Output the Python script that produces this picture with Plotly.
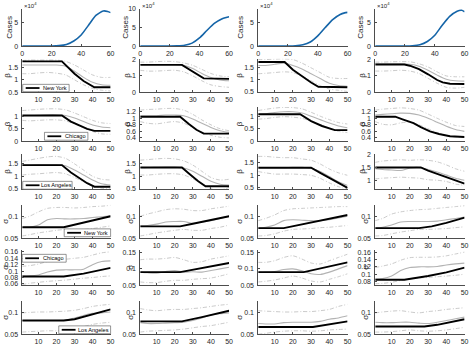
import plotly.graph_objects as go

# ---------------------------------------------------------------- data
# Daily reported cases (x 10^4) for the four scenarios
CASE_DAYS = [0, 10, 20, 25, 30, 35, 40, 45, 50, 55, 58, 60]
cases = [
    [0, 0, 0.02, 0.1, 0.35, 1.1, 2.4, 4.5, 6.6, 7.55, 7.45, 7.2],
    [0, 0, 0.02, 0.08, 0.25, 0.8, 2.2, 4.2, 6.1, 7.3, 7.7, 7.9],
    [0, 0, 0.02, 0.08, 0.3, 0.9, 2.2, 4.0, 5.7, 6.8, 7.15, 7.25],
    [0, 0, 0.02, 0.08, 0.3, 1.0, 2.35, 4.5, 6.4, 7.5, 7.7, 7.4],
]

# Common day grid for posterior mean and credible bounds
DAYS = [1, 5, 10, 15, 20, 25, 30, 35, 40, 45, 50]

# ---- beta, New York
beta_ny_est_days = [
    [1, 23, 30, 35, 41, 50],
    [1, 24, 36, 50],
    [1, 15.5, 20, 25, 30, 34, 50],
    [1, 17, 20, 25, 30, 35, 38, 42, 50],
]
beta_ny_est = [
    [1.75, 1.75, 1.25, 0.95, 0.7, 0.7],
    [1.68, 1.68, 0.85, 0.82],
    [1.75, 1.75, 1.42, 1.13, 0.88, 0.7, 0.68],
    [1.7, 1.7, 1.63, 1.42, 1.1, 0.75, 0.6, 0.52, 0.5],
]
beta_ny_mean = [
    [1.6, 1.6, 1.6, 1.6, 1.6, 1.55, 1.35, 1.1, 0.9, 0.8, 0.78],
    [1.7, 1.7, 1.7, 1.7, 1.7, 1.65, 1.45, 1.15, 0.9, 0.75, 0.7],
    [1.6, 1.6, 1.65, 1.7, 1.6, 1.45, 1.25, 1.05, 0.85, 0.75, 0.72],
    [1.75, 1.75, 1.75, 1.75, 1.72, 1.6, 1.35, 1.05, 0.8, 0.7, 0.68],
]
beta_ny_hi = [
    [1.78, 1.8, 1.8, 1.8, 1.8, 1.75, 1.6, 1.4, 1.2, 1.1, 1.1],
    [1.85, 1.85, 1.88, 1.9, 1.88, 1.8, 1.65, 1.4, 1.15, 1.0, 0.95],
    [1.85, 1.85, 1.87, 1.88, 1.85, 1.7, 1.5, 1.3, 1.1, 1.05, 1.05],
    [1.85, 1.85, 1.87, 1.88, 1.87, 1.75, 1.55, 1.25, 1.0, 0.95, 0.95],
]
beta_ny_lo = [
    [1.25, 1.25, 1.28, 1.3, 1.27, 1.2, 1.0, 0.8, 0.65, 0.58, 0.55],
    [1.35, 1.3, 1.3, 1.33, 1.35, 1.25, 1.0, 0.7, 0.45, 0.35, 0.3],
    [1.25, 1.27, 1.3, 1.33, 1.3, 1.15, 0.95, 0.75, 0.6, 0.55, 0.5],
    [1.3, 1.3, 1.32, 1.35, 1.3, 1.15, 0.85, 0.55, 0.3, 0.25, 0.3],
]

# ---- beta, Chicago
beta_chi_est_days = [
    [1, 23, 28, 33, 37, 41, 50],
    [1, 23, 28, 32, 36, 50],
    [1, 24, 30, 36, 43, 50],
    [1, 12, 16, 22, 26, 31, 36, 42, 50],
]
beta_chi_est = [
    [1.05, 1.05, 0.8, 0.62, 0.5, 0.42, 0.42],
    [1.05, 1.05, 0.82, 0.65, 0.53, 0.53],
    [1.1, 1.1, 0.82, 0.62, 0.45, 0.45],
    [1.05, 1.05, 0.97, 0.85, 0.73, 0.6, 0.52, 0.45, 0.43],
]
beta_chi_mean = [
    [1.05, 1.05, 1.06, 1.08, 1.08, 1.05, 0.95, 0.8, 0.66, 0.58, 0.55],
    [1.08, 1.08, 1.08, 1.1, 1.1, 1.08, 0.98, 0.85, 0.72, 0.62, 0.57],
    [1.1, 1.12, 1.17, 1.2, 1.2, 1.15, 1.02, 0.88, 0.74, 0.62, 0.55],
    [1.1, 1.12, 1.14, 1.16, 1.15, 1.1, 1.0, 0.88, 0.76, 0.66, 0.6],
]
beta_chi_hi = [
    [1.25, 1.27, 1.3, 1.32, 1.32, 1.28, 1.15, 1.0, 0.85, 0.75, 0.72],
    [1.25, 1.27, 1.28, 1.3, 1.3, 1.25, 1.12, 0.95, 0.8, 0.68, 0.62],
    [1.25, 1.3, 1.35, 1.38, 1.37, 1.32, 1.18, 1.02, 0.88, 0.76, 0.7],
    [1.25, 1.28, 1.3, 1.32, 1.3, 1.25, 1.13, 1.0, 0.88, 0.78, 0.75],
]
beta_chi_lo = [
    [0.85, 0.83, 0.85, 0.87, 0.87, 0.83, 0.7, 0.55, 0.4, 0.3, 0.28],
    [0.9, 0.85, 0.83, 0.87, 0.9, 0.85, 0.72, 0.58, 0.48, 0.42, 0.4],
    [0.9, 0.92, 0.97, 1.0, 0.98, 0.93, 0.82, 0.68, 0.52, 0.4, 0.35],
    [0.9, 0.82, 0.8, 0.86, 0.88, 0.8, 0.68, 0.56, 0.47, 0.43, 0.42],
]

# ---- beta, Los Angeles
beta_la_est_days = [
    [1, 23, 28, 33, 37, 41, 50],
    [1, 24, 28, 33, 37, 50],
    [1, 30, 35, 40, 45, 50],
    [1, 22, 24, 26, 30, 35, 40, 45, 50],
]
beta_la_est = [
    [1.45, 1.45, 1.15, 0.9, 0.72, 0.58, 0.58],
    [1.35, 1.35, 1.1, 0.8, 0.6, 0.6],
    [1.3, 1.3, 1.1, 0.9, 0.7, 0.5],
    [1.5, 1.5, 1.52, 1.5, 1.38, 1.25, 1.12, 1.0, 0.87],
]
beta_la_mean = [
    [1.45, 1.45, 1.47, 1.47, 1.47, 1.42, 1.25, 1.05, 0.85, 0.7, 0.65],
    [1.35, 1.35, 1.36, 1.37, 1.37, 1.33, 1.2, 1.0, 0.8, 0.68, 0.65],
    [1.3, 1.3, 1.3, 1.3, 1.32, 1.32, 1.28, 1.15, 0.95, 0.75, 0.6],
    [1.45, 1.42, 1.4, 1.38, 1.48, 1.5, 1.42, 1.32, 1.2, 1.08, 1.0],
]
beta_la_hi = [
    [1.6, 1.65, 1.72, 1.78, 1.8, 1.72, 1.5, 1.25, 1.0, 0.88, 0.85],
    [1.65, 1.67, 1.7, 1.72, 1.7, 1.62, 1.45, 1.2, 0.95, 0.85, 0.88],
    [1.75, 1.75, 1.72, 1.7, 1.7, 1.65, 1.6, 1.45, 1.25, 1.1, 1.0],
    [1.7, 1.75, 1.78, 1.8, 1.78, 1.8, 1.78, 1.72, 1.6, 1.45, 1.35],
]
beta_la_lo = [
    [1.05, 1.08, 1.1, 1.13, 1.15, 1.1, 0.95, 0.78, 0.62, 0.52, 0.5],
    [1.05, 1.05, 1.08, 1.1, 1.1, 1.05, 0.9, 0.7, 0.5, 0.45, 0.55],
    [1.15, 1.1, 1.05, 1.05, 1.05, 1.03, 1.0, 0.88, 0.7, 0.55, 0.45],
    [1.05, 1.08, 1.1, 1.12, 1.1, 1.08, 1.02, 1.0, 0.95, 0.85, 0.8],
]

# ---- sigma, New York
sig_ny_est_days = [
    [1, 24, 50],
    [1, 23, 30, 40, 50],
    [1, 15, 50],
    [1, 25, 32, 40, 50],
]
sig_ny_est = [
    [0.075, 0.075, 0.1],
    [0.077, 0.077, 0.083, 0.091, 0.1],
    [0.073, 0.073, 0.103],
    [0.073, 0.073, 0.077, 0.085, 0.097],
]
sig_ny_mean = [
    [0.075, 0.075, 0.08, 0.092, 0.095, 0.094, 0.094, 0.095, 0.097, 0.099, 0.101],
    [0.078, 0.079, 0.082, 0.087, 0.088, 0.088, 0.084, 0.087, 0.09, 0.095, 0.1],
    [0.073, 0.075, 0.08, 0.09, 0.092, 0.091, 0.09, 0.09, 0.092, 0.096, 0.1],
    [0.073, 0.075, 0.08, 0.087, 0.088, 0.088, 0.088, 0.089, 0.092, 0.095, 0.098],
]
sig_ny_hi = [
    [0.095, 0.1, 0.11, 0.118, 0.12, 0.12, 0.119, 0.12, 0.122, 0.123, 0.125],
    [0.1, 0.105, 0.11, 0.115, 0.117, 0.116, 0.113, 0.113, 0.117, 0.12, 0.123],
    [0.09, 0.095, 0.103, 0.113, 0.117, 0.118, 0.119, 0.12, 0.121, 0.122, 0.122],
    [0.09, 0.095, 0.105, 0.11, 0.113, 0.115, 0.116, 0.118, 0.12, 0.122, 0.124],
]
sig_ny_lo = [
    [0.055, 0.058, 0.062, 0.065, 0.068, 0.07, 0.07, 0.07, 0.072, 0.075, 0.078],
    [0.055, 0.058, 0.062, 0.065, 0.068, 0.07, 0.068, 0.068, 0.072, 0.075, 0.08],
    [0.055, 0.056, 0.06, 0.066, 0.07, 0.071, 0.072, 0.074, 0.075, 0.077, 0.079],
    [0.055, 0.056, 0.06, 0.064, 0.067, 0.07, 0.07, 0.071, 0.072, 0.074, 0.076],
]

# ---- sigma, Chicago
sig_chi_est_days = [
    [1, 24, 35, 50],
    [1, 23, 50],
    [1, 26, 50],
    [1, 17, 30, 40, 50],
]
sig_chi_est = [
    [0.083, 0.083, 0.092, 0.11],
    [0.09, 0.09, 0.118],
    [0.09, 0.09, 0.12],
    [0.085, 0.085, 0.095, 0.105, 0.118],
]
sig_chi_mean = [
    [0.085, 0.085, 0.088, 0.097, 0.103, 0.104, 0.104, 0.106, 0.12, 0.13, 0.132],
    [0.09, 0.088, 0.087, 0.092, 0.095, 0.09, 0.091, 0.09, 0.095, 0.1, 0.105],
    [0.09, 0.09, 0.092, 0.098, 0.1, 0.094, 0.085, 0.083, 0.09, 0.1, 0.11],
    [0.087, 0.088, 0.095, 0.11, 0.118, 0.12, 0.12, 0.121, 0.125, 0.128, 0.13],
]
sig_chi_hi = [
    [0.115, 0.117, 0.122, 0.13, 0.135, 0.137, 0.14, 0.143, 0.15, 0.157, 0.16],
    [0.128, 0.13, 0.13, 0.132, 0.135, 0.128, 0.12, 0.122, 0.13, 0.135, 0.14],
    [0.12, 0.12, 0.125, 0.135, 0.14, 0.13, 0.118, 0.115, 0.125, 0.135, 0.145],
    [0.118, 0.122, 0.128, 0.138, 0.145, 0.146, 0.146, 0.147, 0.15, 0.155, 0.16],
]
sig_chi_lo = [
    [0.058, 0.062, 0.065, 0.068, 0.07, 0.072, 0.075, 0.078, 0.08, 0.083, 0.085],
    [0.06, 0.058, 0.058, 0.062, 0.065, 0.065, 0.068, 0.07, 0.072, 0.078, 0.085],
    [0.06, 0.062, 0.066, 0.072, 0.078, 0.072, 0.063, 0.06, 0.068, 0.076, 0.085],
    [0.074, 0.075, 0.078, 0.083, 0.088, 0.09, 0.091, 0.093, 0.095, 0.097, 0.1],
]

# ---- sigma, Los Angeles
sig_la_est_days = [
    [1, 24, 30, 36, 42, 50],
    [1, 24, 35, 50],
    [1, 31, 50],
    [1, 28, 35, 42, 50],
]
sig_la_est = [
    [0.082, 0.082, 0.085, 0.092, 0.1, 0.108],
    [0.08, 0.08, 0.09, 0.105],
    [0.067, 0.067, 0.08],
    [0.068, 0.068, 0.072, 0.078, 0.085],
]
sig_la_mean = [
    [0.082, 0.082, 0.082, 0.082, 0.082, 0.083, 0.088, 0.094, 0.099, 0.1, 0.102],
    [0.077, 0.075, 0.075, 0.076, 0.077, 0.078, 0.082, 0.088, 0.095, 0.098, 0.1],
    [0.075, 0.074, 0.074, 0.077, 0.078, 0.078, 0.078, 0.08, 0.085, 0.088, 0.093],
    [0.078, 0.077, 0.077, 0.078, 0.078, 0.076, 0.075, 0.078, 0.082, 0.086, 0.09],
]
sig_la_hi = [
    [0.1, 0.101, 0.102, 0.102, 0.103, 0.104, 0.106, 0.11, 0.115, 0.118, 0.12],
    [0.11, 0.107, 0.105, 0.107, 0.108, 0.108, 0.11, 0.112, 0.115, 0.118, 0.12],
    [0.105, 0.104, 0.103, 0.102, 0.102, 0.103, 0.103, 0.105, 0.108, 0.115, 0.12],
    [0.1, 0.102, 0.104, 0.105, 0.102, 0.1, 0.103, 0.105, 0.108, 0.11, 0.112],
]
sig_la_lo = [
    [0.055, 0.056, 0.057, 0.058, 0.058, 0.06, 0.064, 0.068, 0.073, 0.076, 0.078],
    [0.055, 0.057, 0.058, 0.059, 0.06, 0.062, 0.065, 0.068, 0.07, 0.074, 0.078],
    [0.05, 0.052, 0.055, 0.057, 0.058, 0.058, 0.057, 0.058, 0.06, 0.061, 0.062],
    [0.055, 0.055, 0.056, 0.058, 0.06, 0.058, 0.057, 0.058, 0.06, 0.063, 0.066],
]

# ---------------------------------------------------------------- layout
W, H = 474, 347
COL_PX = [(20.5, 110), (140, 230), (259.5, 350), (378, 468.5)]
ROW_PX = [(5, 43), (56, 90), (105, 140), (153, 189), (205, 239), (251, 287), (303, 337)]

Y_RANGE = [
    [(0, 8), (0, 10), (0, 8), (0, 8)],
    [(0.5, 1.85), (0, 2.05), (0.47, 1.88), (0, 2.05)],
    [(0, 1.4), (0.3, 1.35), (0, 1.4), (0.3, 1.35)],
    [(0.48, 1.9), (0.48, 1.9), (0.45, 1.85), (0.65, 2.03)],
    [(0.05, 0.126), (0.05, 0.126), (0.05, 0.126), (0.05, 0.126)],
    [(0.056, 0.166), (0.05, 0.158), (0.05, 0.158), (0.07, 0.166)],
    [(0.05, 0.128), (0.05, 0.128), (0.05, 0.128), (0.05, 0.128)],
]
Y_TICKS = [
    [[0, 5], [0, 5, 10], [0, 5], [0, 5]],
    [[0.5, 1, 1.5], [0, 1, 2], [0.5, 1, 1.5], [0, 1, 2]],
    [[0, 0.5, 1], [0.4, 0.6, 0.8, 1, 1.2], [0, 0.5, 1], [0.4, 0.6, 0.8, 1, 1.2]],
    [[0.5, 1, 1.5], [0.5, 1, 1.5], [0.5, 1, 1.5], [1, 1.5, 2]],
    [[0.05, 0.1]] * 4,
    [[0.06, 0.08, 0.1, 0.12, 0.14, 0.16], [0.05, 0.1, 0.15], [0.05, 0.1, 0.15],
     [0.08, 0.1, 0.12, 0.14, 0.16]],
    [[0.05, 0.1]] * 4,
]
YLABEL_OFFSET = {"Cases": [13, 15, 18, 15], "β": [15, 13, 19, 13], "σ": [17, 10, 19, 10]}

FONT = "Liberation Sans, Arial, sans-serif"
AXIS_COLOR = "#4d4d4d"
TEXT_COLOR = "#262626"
BLACK = "#000000"
GRAY = "#b3b3b3"
GRAY_BAND = "#bdbdbd"
BLUE = "#1565a8"

fig = go.Figure()
layout = {}


def axis_names(r, c):
    n = r * 4 + c + 1
    s = "" if n == 1 else str(n)
    return s, n


for r in range(7):
    for c in range(4):
        s, n = axis_names(r, c)
        x0, x1 = COL_PX[c]
        top, bot = ROW_PX[r]
        common = dict(
            showline=True, linecolor=AXIS_COLOR, linewidth=0.6,
            ticks="inside", ticklen=2, tickwidth=0.6, tickcolor=AXIS_COLOR,
            showgrid=False, zeroline=False,
            tickfont=dict(size=7, color=TEXT_COLOR, family=FONT),
        )
        if r == 0:
            xr, xt = [0, 60], [0, 20, 40, 60]
        else:
            xr, xt = [1, 50], [10, 20, 30, 40, 50]
        layout["xaxis" + s] = dict(
            domain=[x0 / W, x1 / W], range=xr, tickvals=xt,
            anchor="y" + s, ticklabelstandoff=1, **common)
        layout["yaxis" + s] = dict(
            domain=[1 - bot / H, 1 - top / H], range=list(Y_RANGE[r][c]),
            tickvals=Y_TICKS[r][c], anchor="x" + s, ticklabelstandoff=2, **common)

annotations = []
shapes = []

# Row 1: cumulative cases
for c in range(4):
    s, n = axis_names(0, c)
    fig.add_trace(go.Scatter(
        x=CASE_DAYS, y=cases[c], mode="lines",
        line=dict(color=BLUE, width=1.6, shape="spline", smoothing=0.6),
        xaxis="x" + s, yaxis="y" + s, showlegend=False, hoverinfo="skip"))
    annotations.append(dict(
        text="×10<sup>4</sup>", xref=f"x{s} domain", yref=f"y{s} domain",
        x=0.0, y=1.0, xanchor="left", yanchor="bottom", showarrow=False,
        font=dict(size=6, color=TEXT_COLOR, family=FONT), yshift=-2))

# Rows 2-7: parameter trajectories
PANEL_ROWS = [
    ("β", beta_ny_est_days, beta_ny_est, beta_ny_mean, beta_ny_hi, beta_ny_lo),
    ("β", beta_chi_est_days, beta_chi_est, beta_chi_mean, beta_chi_hi, beta_chi_lo),
    ("β", beta_la_est_days, beta_la_est, beta_la_mean, beta_la_hi, beta_la_lo),
    ("σ", sig_ny_est_days, sig_ny_est, sig_ny_mean, sig_ny_hi, sig_ny_lo),
    ("σ", sig_chi_est_days, sig_chi_est, sig_chi_mean, sig_chi_hi, sig_chi_lo),
    ("σ", sig_la_est_days, sig_la_est, sig_la_mean, sig_la_hi, sig_la_lo),
]

DASHDOT = "4px,2px,1px,2px"
for i, (sym, est_d, est, mean, hi, lo) in enumerate(PANEL_ROWS):
    r = i + 1
    for c in range(4):
        s, n = axis_names(r, c)
        ax = dict(xaxis="x" + s, yaxis="y" + s, showlegend=False, hoverinfo="skip")
        for band in (hi[c], lo[c]):
            fig.add_trace(go.Scatter(
                x=DAYS, y=band, mode="lines",
                line=dict(color=GRAY_BAND, width=0.8, dash=DASHDOT,
                          shape="spline", smoothing=0.8), **ax))
        fig.add_trace(go.Scatter(
            x=DAYS, y=mean[c], mode="lines",
            line=dict(color=GRAY, width=1.1, shape="spline", smoothing=0.8), **ax))
        fig.add_trace(go.Scatter(
            x=est_d[c], y=est[c], mode="lines",
            line=dict(color=BLACK, width=1.9), **ax))

# y-axis titles
for r in range(7):
    label = "Cases" if r == 0 else ("β" if r <= 3 else "σ")
    for c in range(4):
        s, n = axis_names(r, c)
        annotations.append(dict(
            text=label, xref=f"x{s} domain", yref=f"y{s} domain",
            x=0, y=0.5, xanchor="center", yanchor="middle", showarrow=False,
            xshift=-YLABEL_OFFSET[label][c], textangle=-90,
            font=dict(size=8, color=TEXT_COLOR, family=FONT)))

# City legends in the first column (pixel boxes: x0, x1, y0, y1)
LEGENDS = [
    (1, "New York", (21, 68, 82, 89.5)),
    (2, "Chicago", (43, 87, 131, 139)),
    (3, "Los Angeles", (21, 71, 181, 189)),
    (4, "New York", (63, 110, 229.5, 237.5)),
    (5, "Chicago", (20.5, 65, 255.5, 263.5)),
    (6, "Los Angeles", (57.5, 110, 328.5, 336.5)),
]
for r, name, (bx0, bx1, by0, by1) in LEGENDS:
    shapes.append(dict(
        type="rect", xref="paper", yref="paper",
        x0=bx0 / W, x1=bx1 / W, y0=1 - by1 / H, y1=1 - by0 / H,
        line=dict(color=AXIS_COLOR, width=0.6), fillcolor="white", layer="above"))
    ym = 1 - (by0 + by1) / 2 / H
    shapes.append(dict(
        type="line", xref="paper", yref="paper",
        x0=(bx0 + 3) / W, x1=(bx0 + 17) / W, y0=ym, y1=ym,
        line=dict(color=BLACK, width=1.8), layer="above"))
    annotations.append(dict(
        text=name, xref="paper", yref="paper", x=(bx0 + bx1 + 18) / 2 / W, y=ym,
        xanchor="center", yanchor="middle", showarrow=False,
        font=dict(size=5.6, color=BLACK, family=FONT)))

fig.update_layout(
    **layout,
    annotations=annotations,
    shapes=shapes,
    width=W, height=H,
    margin=dict(l=0, r=0, t=0, b=0),
    paper_bgcolor="white", plot_bgcolor="white",
    font=dict(family=FONT, color=TEXT_COLOR),
    showlegend=False,
)

fig.write_html("out.html")
